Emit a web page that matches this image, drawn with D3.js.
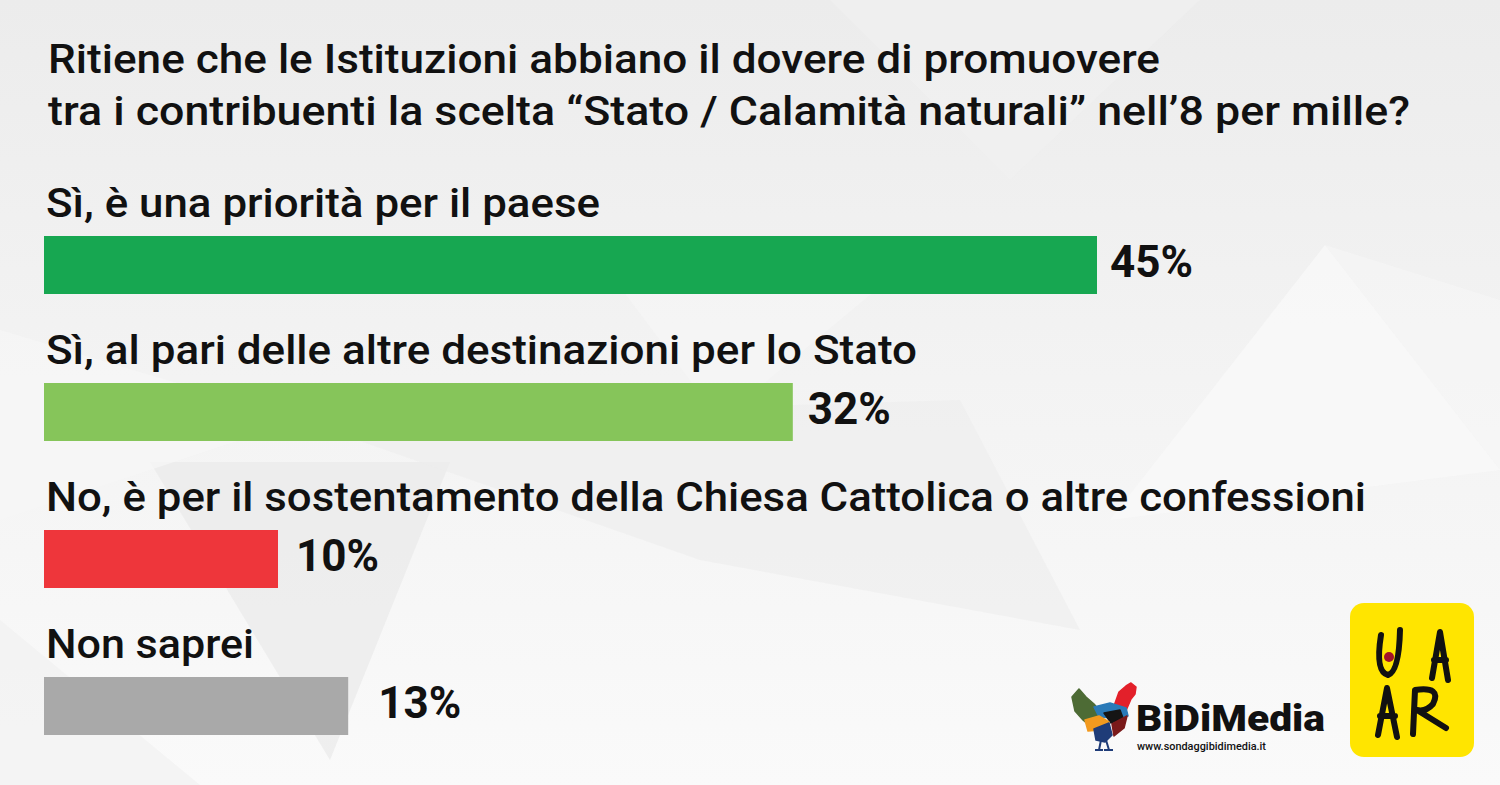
<!DOCTYPE html>
<html>
<head>
<meta charset="utf-8">
<script src="https://cdn.jsdelivr.net/npm/d3@7"></script>
<style>
  html, body { margin: 0; padding: 0; background: #f3f3f3; }
  svg { display: block; }
</style>
</head>
<body>
<svg id="chart" width="1500" height="785"></svg>
<script>
// ---- data ----
const categories = [
  "Sì, è una priorità per il paese",
  "Sì, al pari delle altre destinazioni per lo Stato",
  "No, è per il sostentamento della Chiesa Cattolica o altre confessioni",
  "Non saprei"
];
const values = [45, 32, 10, 13];
const valueLabels = ["45%", "32%", "10%", "13%"];
const barColors = ["#17a751", "#86c55a", "#ee363b", "#a9a9a9"];
const titleLines = [
  "Ritiene che le Istituzioni abbiano il dovere di promuovere",
  "tra i contribuenti la scelta “Stato / Calamità naturali” nell’8 per mille?"
];

// ---- layout (styling, not data) ----
const W = 1500, H = 785;
const titleWidths = [1112, 1362];
const labelWidths = [554, 871, 1320, 208];
const valueGaps = [13, 15, 18, 30];
const FONT = "Roboto, 'Open Sans', sans-serif";

const svg = d3.select("#chart");

// background
const defs = svg.append("defs");
const bg = defs.append("linearGradient").attr("id", "bg").attr("x1", 0).attr("y1", 0).attr("x2", 0).attr("y2", 1);
bg.append("stop").attr("offset", "0%").attr("stop-color", "#ececec");
bg.append("stop").attr("offset", "55%").attr("stop-color", "#f4f4f4");
bg.append("stop").attr("offset", "100%").attr("stop-color", "#fafafa");
svg.append("rect").attr("width", W).attr("height", H).attr("fill", "url(#bg)");

// faint polygon decorations
const polys = [
  {pts: [[150, 462], [450, 462], [330, 760]], fill: "#e9e9e9", op: 0.7},
  {pts: [[300, 420], [960, 400], [1080, 630], [700, 560]], fill: "#ededed", op: 0.6},
  {pts: [[1325, 245], [1110, 520], [1500, 470]], fill: "#f9f9f9", op: 0.8},
  {pts: [[1325, 245], [1500, 470], [1500, 300]], fill: "#f6f6f6", op: 0.6},
  {pts: [[0, 330], [300, 420], [0, 520]], fill: "#f7f7f7", op: 0.7},
  {pts: [[0, 620], [200, 785], [0, 785]], fill: "#f0f0f0", op: 0.6},
  {pts: [[830, 0], [1200, 0], [1010, 180]], fill: "#f1f1f1", op: 0.5},
  {pts: [[600, 260], [900, 270], [720, 420]], fill: "#f6f6f6", op: 0.6}
];
svg.append("g").selectAll("polygon").data(polys).join("polygon")
  .attr("points", d => d.pts.map(p => p.join(",")).join(" "))
  .attr("fill", d => d.fill).attr("opacity", d => d.op);

// title
svg.append("g").selectAll("text").data(titleLines).join("text")
  .attr("x", 48)
  .attr("y", (d, i) => 73 + i * 52)
  .attr("font-family", FONT)
  .attr("font-weight", 500)
  .attr("font-size", 40)
  .attr("fill", "#111")
  .attr("textLength", (d, i) => titleWidths[i])
  .attr("lengthAdjust", "spacingAndGlyphs")
  .text(d => d);

// scales
const x = d3.scaleLinear().domain([0, 45]).range([44, 1097]);
const y = d3.scaleBand().domain(d3.range(categories.length)).range([236, 236 + 147 * 4]).paddingInner(0);
const barH = 58;

const rows = svg.append("g").selectAll("g").data(categories).join("g");

rows.append("text")
  .attr("x", 46)
  .attr("y", (d, i) => y(i) - 19)
  .attr("font-family", FONT)
  .attr("font-weight", 500)
  .attr("font-size", 40)
  .attr("fill", "#111")
  .attr("textLength", (d, i) => labelWidths[i])
  .attr("lengthAdjust", "spacingAndGlyphs")
  .text(d => d);

rows.append("rect")
  .attr("x", x(0))
  .attr("y", (d, i) => y(i))
  .attr("width", (d, i) => x(values[i]) - x(0))
  .attr("height", barH)
  .attr("fill", (d, i) => barColors[i]);

rows.append("text")
  .attr("x", (d, i) => x(values[i]) + valueGaps[i])
  .attr("y", (d, i) => y(i) + 41)
  .attr("font-family", FONT)
  .attr("font-weight", 700)
  .attr("font-size", 44)
  .attr("fill", "#111")
  .text((d, i) => valueLabels[i]);

// ---- BiDiMedia logo ----
const hen = svg.append("g");
const henParts = [
  {c: "#4d6b35", p: [[1072,697],[1079,689],[1086,697],[1094,704],[1100,711],[1097,721],[1090,726],[1083,720],[1075,711]]},
  {c: "#e3202a", p: [[1114,706],[1119,692],[1126,686],[1131,683],[1136,687],[1135,694],[1131,699],[1128,706],[1125,713],[1117,713]]},
  {c: "#2a7ab8", p: [[1094,707],[1110,703],[1126,708],[1128,716],[1114,718],[1099,717]]},
  {c: "#151515", p: [[1104,713],[1120,710],[1123,718],[1111,723]]},
  {c: "#f29a1f", p: [[1085,720],[1099,716],[1109,722],[1100,730],[1088,731]]},
  {c: "#1f3c78", p: [[1094,729],[1109,723],[1112,735],[1105,742],[1096,740]]},
  {c: "#7a1a1a", p: [[1112,724],[1127,716],[1124,728],[1114,736]]}
];
hen.selectAll("polygon").data(henParts).join("polygon")
  .attr("points", d => d.p.map(q => q.join(",")).join(" "))
  .attr("fill", d => d.c)
  .attr("stroke", d => d.c).attr("stroke-width", 1.5).attr("stroke-linejoin", "round");
hen.append("path").attr("d", "M1101,740 L1099,750 M1106,740 L1109,750 M1095,750 L1103,750 M1104,750 L1113,750")
  .attr("stroke", "#1f3c78").attr("stroke-width", 2).attr("fill", "none");

svg.append("text").attr("x", 1136).attr("y", 731)
  .attr("font-family", FONT).attr("font-weight", 900).attr("font-size", 37)
  .attr("fill", "#111").attr("textLength", 189).attr("lengthAdjust", "spacingAndGlyphs")
  .text("BiDiMedia");
svg.append("text").attr("x", 1137).attr("y", 750)
  .attr("font-family", FONT).attr("font-weight", 500).attr("font-size", 11)
  .attr("fill", "#111").attr("textLength", 129).attr("lengthAdjust", "spacingAndGlyphs")
  .text("www.sondaggibidimedia.it");

// ---- UAAR logo ----
const u = svg.append("g");
u.append("rect").attr("x", 1350).attr("y", 603).attr("width", 124).attr("height", 154).attr("rx", 14)
  .attr("fill", "#ffe500");
u.append("path")
  .attr("d", [
    "M1381,635 Q1375,672 1388,675 Q1399,672 1400,630",
    "M1432,678 L1440,632 L1448,680 M1434,660 L1446,660",
    "M1378,735 L1387,688 L1397,737 M1380,716 L1395,716",
    "M1413,734 L1415,690 Q1442,686 1433,704 Q1426,712 1417,710 L1446,728"
  ].join(" "))
  .attr("stroke", "#111").attr("stroke-width", 6).attr("fill", "none")
  .attr("stroke-linecap", "round").attr("stroke-linejoin", "round");
u.append("circle").attr("cx", 1389).attr("cy", 657).attr("r", 5).attr("fill", "#a3132a");
</script>
</body>
</html>
